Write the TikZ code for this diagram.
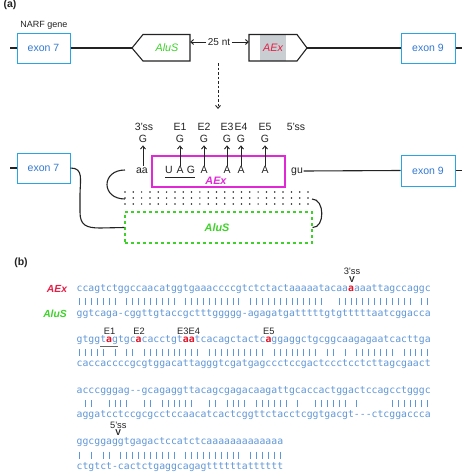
\documentclass[tikz,border=0pt]{standalone}
\usepackage{fontspec}
\setmainfont{Liberation Sans}
\newfontfamily\seqfont{DejaVu Sans Mono}
\usetikzlibrary{arrows.meta}
\definecolor{exonblue}{RGB}{40,165,230}
\definecolor{exontext}{RGB}{50,120,210}
\definecolor{alugreen}{RGB}{60,210,40}
\definecolor{aexred}{RGB}{230,30,70}
\definecolor{magentabox}{RGB}{225,40,215}
\definecolor{seqblue}{RGB}{95,150,215}
\definecolor{redbase}{RGB}{225,20,40}
\definecolor{graybox}{RGB}{200,206,209}
\definecolor{ink}{RGB}{35,35,35}
\newcommand\rb[1]{\textcolor{redbase}{\bfseries #1}}
\newcount\barcnt
\makeatletter
\def\bars@end{}
\newcommand\drawbars[2]{\def\bary{#1}\global\barcnt=0 \bars@loop#2\bars@end}
\def\bars@loop#1{\ifx#1\bars@end\else\global\advance\barcnt by1 \if#1|\draw[barline] ({76.5+(\the\barcnt-0.5)*5.9},{\bary-3.5}) -- ++(0,7);\fi\expandafter\bars@loop\fi}
\makeatother
\begin{document}
\begin{tikzpicture}[x=1pt,y=-1pt,
  gline/.style={draw=ink, line width=1.1pt},
  exonbox/.style={draw=exonblue, line width=1pt, minimum width=53pt, minimum height=30pt, inner sep=0pt, text=exontext, font=\fontsize{10.5}{12}\selectfont},
  lab/.style={text=ink, font=\fontsize{10.5}{12}\selectfont, inner sep=0.5pt, text height=7.5pt, text depth=1.8pt},
  uparr/.style={draw=ink, line width=0.9pt, -{Straight Barb[length=3pt,width=5pt]}},
  dblarr/.style={draw=ink, line width=0.9pt, -{Straight Barb[length=3pt,width=5pt]}},
  seq/.style={text=seqblue, font=\seqfont\fontsize{9.8}{11}\selectfont, inner sep=0pt, anchor=base west},
  barline/.style={draw=seqblue, line width=0.7pt},
  elab/.style={text=ink, font=\fontsize{9.3}{10}\selectfont, inner sep=0pt},
  vmark/.style={text=ink, font=\bfseries\fontsize{8.5}{10}\selectfont, inner sep=0pt},
  panel/.style={text=ink, font=\bfseries\fontsize{10.5}{12}\selectfont, inner sep=0pt},
]
\useasboundingbox (0,0) rectangle (474,474);

% ---------------- panel (a), top ----------------
\node[panel] (pa) at (10,4.5) {(a)};
\node[text=ink, font=\fontsize{9}{10}\selectfont, inner sep=0pt] (narf) at (44,25) {NARF gene};
\node[exonbox] (e7a) at (43.5,48) {exon 7};
\node[exonbox, minimum width=54pt] (e9a) at (428,48) {exon 9};
\coordinate (l7a) at (10,48);
\coordinate (r9a) at (462,48);
\coordinate (alutip) at (132,48);
\coordinate (aextip) at (307,48);
\fill[graybox] (260,35) rectangle (286,61);
\draw[gline] (alutip) -- (143,34.5) -- (190,34.5) -- (190,61) -- (143,61) -- cycle;
\draw[gline] (aextip) -- (297,34.5) -- (249,34.5) -- (249,61) -- (297,61) -- cycle;
\node[text=alugreen, font=\itshape\fontsize{10.8}{12}\selectfont, inner sep=0pt] (alut) at (167,47.5) {AluS};
\node[text=aexred, font=\itshape\fontsize{10.8}{12}\selectfont, inner sep=0pt] (aext) at (273,47.5) {AEx};
\draw[gline] (l7a) -- (e7a.west);
\draw[gline] (e7a.east) -- (alutip);
\draw[gline] (aextip) -- (e9a.west);
\draw[gline] (e9a.east) -- (r9a);
\node[text=ink, font=\fontsize{10}{12}\selectfont, inner sep=1.5pt] (nt) at (219,42) {25 nt};
\coordinate (ntl) at (190,42);
\coordinate (ntr) at (249,42);
\draw[dblarr] (nt.west) -- (ntl);
\draw[dblarr] (nt.east) -- (ntr);
\coordinate (dtop) at (218,63);
\coordinate (dbot) at (218,109);
\draw[draw=ink, line width=0.9pt, dash pattern=on 2.5pt off 2pt, -{Straight Barb[length=3pt,width=5pt]}] (dtop) -- (dbot);

% ---------------- panel (a), bottom ----------------
\node[draw=magentabox, line width=1.1pt, minimum width=133pt, minimum height=31pt, inner sep=0pt] (aexbox) at (218.5,171.5) {};
\node[text=magentabox, font=\bfseries\itshape\fontsize{10.8}{12}\selectfont, inner sep=0pt] (aexl) at (216,181) {AEx};
\node[draw=alugreen, dashed, line width=1.1pt, minimum width=187pt, minimum height=31pt, inner sep=0pt] (alubox) at (218.5,227.5) {};
\node[text=alugreen, font=\bfseries\itshape\fontsize{10.8}{12}\selectfont, inner sep=0pt] (alul) at (217,228) {AluS};

\node[exonbox] (e7b) at (43.5,168) {exon 7};
\node[exonbox, minimum width=54pt, minimum height=31pt] (e9b) at (428,170.5) {exon 9};
\coordinate (l7b) at (10,168);
\coordinate (r9b) at (462,170.5);
\draw[gline] (l7b) -- (e7b.west);
\draw[gline] (e9b.east) -- (r9b);

% base row
\node[lab] (b0) at (142,171) {aa};
\node[lab] (bu) at (169,171) {U};
\node[lab] (b1) at (180,171) {A};
\node[lab] (bg) at (191,171) {G};
\node[lab] (b2) at (204,171) {A};
\node[lab] (b3) at (227,171) {A};
\node[lab] (b4) at (241,171) {A};
\node[lab] (b5) at (265,171) {A};
\node[lab] (gu) at (297,171) {gu};
\coordinate (ul1) at (165,177.5);
\coordinate (ul2) at (195,177.5);
\draw[draw=ink, line width=0.9pt] (ul1) -- (ul2);
\draw[gline] (gu.east) -- (e9b.west);

% G row and labels
\node[lab] (g0) at (143,140) {G};
\node[lab] (g1) at (180,140) {G};
\node[lab] (g2) at (204,140) {G};
\node[lab] (g3) at (227,140) {G};
\node[lab] (g4) at (241,140) {G};
\node[lab] (g5) at (265,140) {G};
\node[lab] (t0) at (144,128) {3'ss};
\node[lab] (t1) at (180,128) {E1};
\node[lab] (t2) at (204,128) {E2};
\node[lab] (t3) at (227,128) {E3};
\node[lab] (t4) at (241,128) {E4};
\node[lab] (t5) at (265,128) {E5};
\node[lab] (t6) at (296,128) {5'ss};
\draw[uparr] (b0.north -| g0) -- (g0.south);
\draw[uparr] (b1.north) -- (g1.south);
\draw[uparr] (b2.north) -- (g2.south);
\draw[uparr] (b3.north) -- (g3.south);
\draw[uparr] (b4.north) -- (g4.south);
\draw[uparr] (b5.north) -- (g5.south);

% pairing dots
\foreach \i in {0,...,22}{
  \foreach \j in {192,198,204}{
    \fill[ink] ({125+\i*8.32},\j) circle (0.85);
  }
}
% loops
\coordinate (la) at (125,170);
\coordinate (lb) at (125,199);
\draw[gline] (la) .. controls (101,170) and (101,199) .. (lb);
\coordinate (ra) at (312,199);
\draw[gline] (ra) .. controls (325,199) and (325,228) .. (alubox.east);
\draw[gline] (e7b.east) .. controls (84,168) and (80,180) .. (80,196) -- (80,212) .. controls (80,225) and (86,228) .. (100,228) -- (alubox.west);

% ---------------- panel (b) ----------------
\node[panel] (pb) at (21,263) {(b)};
\node[text=aexred, font=\bfseries\itshape\fontsize{10.3}{12}\selectfont, inner sep=0pt] (saex) at (57,288.5) {AEx};
\node[text=alugreen, font=\bfseries\itshape\fontsize{10.3}{12}\selectfont, inner sep=0pt] (salu) at (55,314) {AluS};

\node[elab] (ss3) at (352,271.5) {3'ss};
\node[vmark] (v3) at (352,280) {V};

\node[seq] (s1t) at (76.5,291.7) {ccagtctggccaacatggtgaaaccccgtctctactaaaaatacaa\rb{a}aaattagccaggc};
\drawbars{301.5}{|||||||.|||||||||.||||||||||.|||||||||||||..|||||||||||||.||}
\node[seq] (s1b) at (76.5,316.7) {ggtcaga-cggttgtaccgctttggggg-agagatgatttttgtgtttttaatcggacca};

\node[elab] (se1) at (109.5,331) {E1};
\node[elab] (se2) at (139,331) {E2};
\node[elab] (se34) at (188.6,331) {E3E4};
\node[elab] (se5) at (268.8,331) {E5};
\node[seq] (s2t) at (76.5,342.7) {gtggt\rb{a}gtgc\rb{a}cacctgt\rb{aa}tcacagctactc\rb{a}ggaggctgcggcaagagaatcacttga};
\coordinate (u2a) at (100.1,346);
\coordinate (u2b) at (117.8,346);
\draw[draw=ink!70, line width=0.8pt] (u2a) -- (u2b);
\drawbars{352.5}{|||||.|.||.||||||||||.||||||||||.||||||||.||.|.|||||||.|||||}
\node[seq] (s2b) at (76.5,366.7) {caccaccccgcgtggacattagggtcgatgagccctccgactccctcctcttagcgaact};

\node[seq] (s3t) at (76.5,393.7) {acccgggag--gcagaggttacagcgagacaagattgcaccactggactccagcctgggc};
\drawbars{403.5}{.||..||||..||.||||||..||.||||.||||||.|..||||||.|.....|||||||}
\node[seq] (s3b) at (76.5,417.7) {aggatcctccgcgcctccaacatcactcggttctacctcggtgacgt---ctcggaccca};

\node[elab] (ss5) at (118.3,425) {5'ss};
\node[vmark] (v5) at (118.3,433) {V};
\node[seq] (s4t) at (76.5,444.7) {ggcggaggtgagactccatctcaaaaaaaaaaaaa};
\drawbars{455}{|.|.||.||||||||||.||||||||||.||||||}
\node[seq] (s4b) at (76.5,469.7) {ctgtct-cactctgaggcagagttttttatttttt};
\end{tikzpicture}
\end{document}
